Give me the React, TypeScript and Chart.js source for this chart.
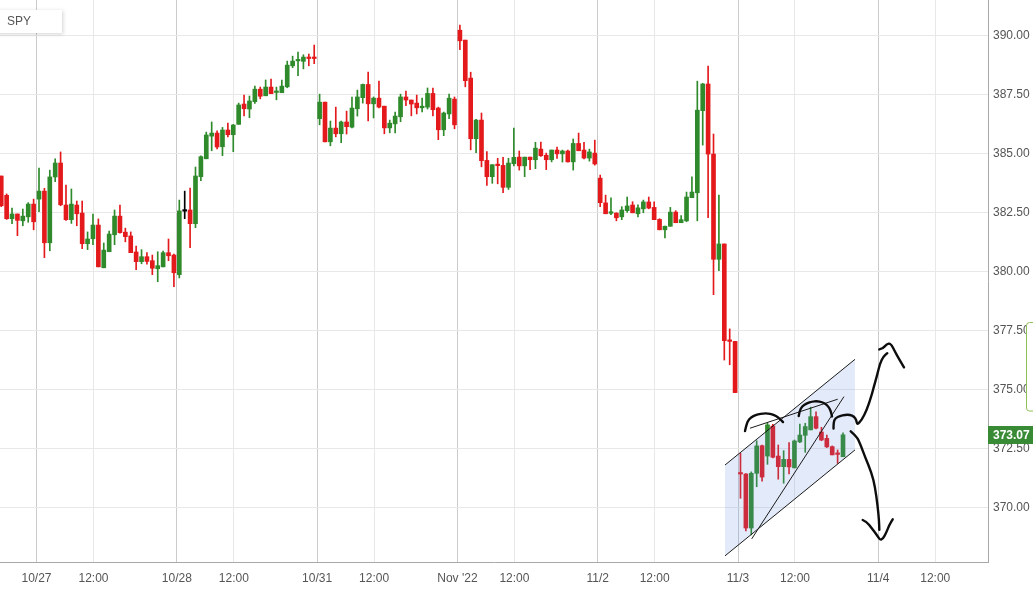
import React, { useEffect, useRef } from 'react';
import { Chart, registerables } from 'chart.js';

Chart.register(...registerables);

// ---------- data (15-minute bars, bar index 0 = first bar of 10/27) ----------
const FIRST_BAR = -7;
const BARS_PER_DAY = 26;
const SYMBOL = 'SPY';
const LAST_PRICE = 373.07;

const OPEN = [
  384.04, 383.22, 382.23, 382.43, 382.14, 382.31, 382.85,
  383.06, 383.40, 381.21, 384.00, 384.59, 382.81, 382.19, 382.81, 382.47, 381.17, 381.38, 381.96, 380.15,
  380.83, 381.55, 382.34, 381.66, 381.50, 380.82, 380.41, 380.62, 380.45, 380.11, 380.19, 380.79, 380.69,
  379.86, 382.55, 382.60, 382.02, 384.01, 384.77, 385.73, 385.86, 385.28, 385.99, 385.79, 386.23, 387.09,
  386.88, 387.19, 387.72, 387.44, 387.81, 387.58, 387.57, 387.82, 388.71, 388.92, 388.90, 389.03, 389.03,
  386.47, 387.17, 385.49, 386.07, 385.83, 386.33, 386.11, 386.89, 387.36, 387.92, 387.10, 387.34, 387.00,
  386.08, 386.25, 386.55, 387.39, 387.26, 387.13, 386.93, 386.96, 387.54, 386.92, 386.00, 386.67, 387.30,
  390.22, 389.80, 388.19, 385.62, 386.41, 384.70, 384.01, 384.50, 384.49, 383.56, 384.56, 384.84, 384.47,
  384.84, 384.73, 385.18, 384.92, 384.73, 385.14, 384.98, 385.10, 384.64, 385.42, 385.14, 384.80, 385.01,
  383.95, 382.90, 382.46, 382.47, 382.31, 382.57, 382.81, 382.44, 382.65, 382.94, 382.71, 382.20, 381.76,
  381.91, 382.51, 382.06, 382.14, 383.12, 383.33, 386.81, 387.94, 384.97, 380.51, 381.16, 377.05, 377.03,
  371.43, 371.41, 369.12, 371.44, 372.61, 372.17, 373.44, 372.17, 371.72, 372.03, 371.67, 372.77, 373.05,
  373.28, 373.84, 373.19, 372.92, 372.57, 372.26, 372.14,
];
const HIGH = [
  384.04, 383.28, 382.68, 382.43, 382.64, 382.91, 383.06,
  384.38, 383.52, 384.29, 384.77, 385.06, 383.66, 383.49, 382.98, 382.98, 381.67, 382.43, 382.22, 381.20,
  381.71, 382.60, 382.81, 381.83, 381.67, 381.07, 380.92, 380.79, 380.69, 380.83, 380.86, 381.37, 380.73,
  383.02, 383.40, 383.53, 384.42, 384.90, 385.90, 386.33, 385.96, 386.10, 386.28, 386.23, 387.13, 387.47,
  387.43, 387.85, 387.81, 388.11, 388.15, 387.81, 388.11, 388.91, 389.12, 389.29, 389.18, 389.21, 389.59,
  387.51, 387.17, 386.37, 386.96, 386.37, 386.79, 387.39, 387.68, 387.94, 388.44, 387.39, 388.06, 387.00,
  386.41, 386.75, 387.51, 387.64, 387.26, 387.47, 387.34, 387.77, 387.77, 386.96, 386.75, 387.51, 387.39,
  390.44, 389.80, 388.44, 386.44, 386.71, 385.08, 384.52, 384.79, 384.83, 384.79, 386.07, 385.10, 384.84,
  384.84, 385.47, 385.48, 385.01, 385.14, 385.27, 385.14, 385.14, 385.61, 385.86, 385.47, 385.18, 385.56,
  384.08, 383.23, 383.11, 382.48, 382.74, 383.15, 382.95, 382.82, 383.02, 383.15, 382.95, 382.23, 381.92,
  382.71, 382.57, 382.36, 383.36, 384.00, 388.06, 387.97, 388.70, 385.82, 383.23, 381.16, 377.56, 377.03,
  372.29, 371.43, 371.50, 372.82, 372.64, 373.56, 373.52, 372.64, 372.40, 372.74, 372.85, 373.53, 373.56,
  374.24, 374.05, 373.39, 373.06, 372.60, 372.43, 373.16,
];
const LOW = [
  382.74, 382.20, 382.02, 381.51, 381.93, 382.08, 381.76,
  382.53, 380.58, 380.87, 383.80, 382.78, 382.16, 382.03, 381.93, 380.96, 380.92, 381.13, 380.19, 380.15,
  380.83, 381.13, 381.62, 381.25, 380.79, 380.07, 380.32, 380.30, 379.86, 379.56, 380.19, 380.45, 379.35,
  379.72, 382.23, 381.00, 381.85, 383.84, 384.77, 385.11, 385.19, 384.90, 385.70, 385.07, 386.23, 386.59,
  386.51, 387.12, 387.31, 387.44, 387.53, 387.27, 387.57, 387.78, 388.63, 388.29, 388.58, 388.71, 388.80,
  386.21, 385.49, 385.32, 385.70, 385.45, 385.82, 386.08, 386.58, 387.13, 386.37, 386.50, 386.93, 385.83,
  385.87, 385.87, 386.34, 387.02, 386.59, 386.67, 386.76, 386.88, 386.59, 385.58, 385.75, 386.47, 386.04,
  389.39, 387.82, 385.15, 385.03, 384.43, 383.64, 383.73, 383.71, 383.33, 383.47, 384.47, 384.29, 384.01,
  384.31, 384.35, 384.87, 384.31, 384.64, 384.79, 384.63, 384.63, 384.29, 385.11, 384.76, 384.67, 384.50,
  382.74, 382.44, 382.40, 382.14, 382.19, 382.50, 382.48, 382.31, 382.48, 382.65, 382.19, 381.76, 381.42,
  381.91, 382.06, 382.06, 382.10, 383.12, 382.14, 385.35, 382.27, 379.01, 380.03, 376.24, 376.04, 374.86,
  370.38, 369.00, 368.83, 370.87, 371.11, 371.82, 372.09, 371.19, 371.02, 371.41, 371.67, 372.74, 372.33,
  373.28, 373.32, 372.82, 372.53, 372.22, 371.86, 372.14,
];
const CLOSE = [
  382.78, 382.23, 382.43, 382.16, 382.34, 382.85, 382.10,
  383.40, 381.21, 384.00, 384.59, 382.82, 382.19, 382.85, 382.44, 381.17, 381.37, 381.96, 380.19, 380.90,
  381.58, 382.34, 381.64, 381.47, 380.79, 380.41, 380.62, 380.42, 380.13, 380.24, 380.79, 380.66, 379.94,
  382.56, 382.55, 382.02, 384.04, 384.86, 385.78, 385.86, 385.27, 385.99, 385.79, 386.20, 387.05, 386.89,
  387.22, 387.72, 387.42, 387.81, 387.53, 387.60, 387.85, 388.74, 388.91, 388.93, 389.08, 389.02, 389.02,
  387.17, 385.49, 386.07, 385.83, 386.33, 386.13, 386.92, 387.39, 387.92, 387.10, 387.34, 386.96, 386.08,
  386.28, 386.58, 387.39, 387.26, 387.09, 386.93, 387.00, 387.54, 386.85, 386.00, 386.71, 387.34, 386.21,
  389.77, 388.08, 385.62, 386.41, 384.69, 384.01, 384.52, 384.48, 383.56, 384.59, 384.83, 384.47, 384.84,
  384.73, 385.22, 384.90, 384.73, 385.14, 384.98, 385.10, 384.64, 385.42, 385.11, 384.80, 385.06, 384.55,
  382.91, 382.44, 382.48, 382.27, 382.60, 382.77, 382.48, 382.69, 382.94, 382.68, 382.19, 381.76, 381.91,
  382.51, 382.06, 382.19, 383.15, 383.36, 386.83, 387.94, 384.97, 380.51, 381.16, 377.06, 377.03, 374.86,
  371.41, 369.12, 371.44, 372.60, 371.28, 373.49, 372.12, 371.72, 372.03, 371.71, 372.81, 373.06, 373.42,
  373.84, 373.35, 372.85, 372.56, 372.22, 372.24, 373.07,
];

// axis ticks
const DAY_LABELS = ['10/27', '10/28', '10/31', "Nov '22", '11/2', '11/3', '11/4'];
const NOON_LABEL = '12:00';
const DAY_TICK_OFFSET = -0.46;
const NOON_TICK_OFFSET = 10.1;
const Y_TICKS = [370, 372.5, 375, 377.5, 380, 382.5, 385, 387.5, 390];
const X_MIN = -7.23;
const X_MAX = 175.87;
const Y_MIN = 367.68;
const Y_MAX = 391.5;

// hand drawings, in (bar index, price)
const CHANNEL_UPPER = [[127.13, 371.79], [151.22, 376.27]];
const CHANNEL_LOWER = [[127.13, 367.94], [151.22, 372.43]];
const TREND_STEEP = [[132.08, 368.66], [149.18, 374.69]];
const TREND_FLAT = [[131.76, 373.35], [148.02, 374.58]];
const STROKE_ARC_LEFT = [
  [130.84, 373.23], [131.12, 373.53], [131.58, 373.74], [132.38, 373.87], [133.25, 373.94], [134.23, 373.98],
  [135.10, 373.98], [135.84, 373.94], [136.58, 373.87], [137.23, 373.77], [137.88, 373.61],
];
const STROKE_ARC_MID = [
  [140.79, 373.87], [140.94, 374.08], [141.40, 374.27], [142.33, 374.41], [143.25, 374.48], [144.18, 374.50],
  [145.11, 374.46], [145.94, 374.36], [146.50, 374.19], [146.78, 374.04], [146.96, 373.85],
];
const STROKE_UP = [
  [147.24, 373.34], [147.24, 373.61], [147.61, 373.78], [148.44, 373.87], [149.37, 373.92], [150.30, 373.92],
  [151.04, 373.85], [151.50, 373.68], [151.60, 373.49], [152.47, 373.70], [153.39, 374.12], [154.32, 374.76],
  [154.75, 375.14], [155.25, 375.53], [155.86, 376.10], [156.47, 376.38], [157.21, 376.53],
];
const STROKE_UP_HEAD = [
  [155.73, 376.69], [156.36, 376.72], [157.10, 376.92], [157.84, 376.95], [158.64, 376.59], [159.43, 376.27],
  [160.30, 375.93],
];
const STROKE_DOWN = [
  [150.43, 373.22], [151.54, 373.00], [152.15, 372.71], [153.08, 372.14], [154.32, 371.44], [154.93, 370.87],
  [155.43, 370.03], [155.67, 369.46], [155.73, 369.04],
];
const STROKE_DOWN_HEAD = [
  [152.65, 369.46], [153.39, 369.39], [154.32, 369.11], [155.25, 368.83], [155.86, 368.61], [156.36, 368.66],
  [156.97, 368.90], [157.58, 369.25], [158.21, 369.49],
];
const STROKES = [STROKE_ARC_LEFT, STROKE_ARC_MID, STROKE_UP, STROKE_UP_HEAD, STROKE_DOWN, STROKE_DOWN_HEAD];

const GREEN = '#2e8a2a';
const RED = '#e3191c';
const FONT = "'Liberation Sans', Arial, sans-serif";

const overlayPlugin = {
  id: 'overlay',
  afterDatasetsDraw(chart: any) {
    const { ctx, chartArea, scales } = chart;
    const xs = scales.x;
    const ys = scales.y;
    const P = (p: number[]) => [xs.getPixelForValue(p[0]), ys.getPixelForValue(p[1])];
    ctx.save();
    ctx.beginPath();
    ctx.rect(chartArea.left, chartArea.top, chartArea.right - chartArea.left, chartArea.bottom - chartArea.top);
    ctx.clip();

    const u0 = P(CHANNEL_UPPER[0]), u1 = P(CHANNEL_UPPER[1]);
    const l0 = P(CHANNEL_LOWER[0]), l1 = P(CHANNEL_LOWER[1]);
    ctx.fillStyle = 'rgba(100,140,220,0.18)';
    ctx.beginPath();
    ctx.moveTo(u0[0], u0[1]);
    ctx.lineTo(u1[0], u1[1]);
    ctx.lineTo(l1[0], l1[1]);
    ctx.lineTo(l0[0], l0[1]);
    ctx.closePath();
    ctx.fill();

    ctx.strokeStyle = '#1a1a1a';
    ctx.lineWidth = 1;
    for (const seg of [CHANNEL_UPPER, CHANNEL_LOWER, TREND_STEEP, TREND_FLAT]) {
      const a = P(seg[0]), b = P(seg[1]);
      ctx.beginPath();
      ctx.moveTo(a[0], a[1]);
      ctx.lineTo(b[0], b[1]);
      ctx.stroke();
    }

    ctx.strokeStyle = '#0d0d0d';
    ctx.lineWidth = 2.4;
    ctx.lineJoin = 'round';
    ctx.lineCap = 'round';
    for (const s of STROKES) {
      const pts = s.map(P);
      ctx.beginPath();
      ctx.moveTo(pts[0][0], pts[0][1]);
      for (let i = 1; i < pts.length - 1; i++) {
        const mx = (pts[i][0] + pts[i + 1][0]) / 2;
        const my = (pts[i][1] + pts[i + 1][1]) / 2;
        ctx.quadraticCurveTo(pts[i][0], pts[i][1], mx, my);
      }
      const last = pts[pts.length - 1];
      ctx.lineTo(last[0], last[1]);
      ctx.stroke();
    }
    ctx.restore();
  },
  afterDraw(chart: any) {
    const { ctx, chartArea, scales, width } = chart;
    const ys = scales.y;
    ctx.save();

    // outlined label box at right edge (partly off canvas)
    const bTop = ys.getPixelForValue(377.85);
    const bBot = ys.getPixelForValue(374.1);
    ctx.fillStyle = '#ffffff';
    ctx.strokeStyle = '#8fbf5a';
    ctx.lineWidth = 1;
    ctx.beginPath();
    (ctx as any).roundRect(width - 6.5, bTop + 0.5, 30, bBot - bTop, 3);
    ctx.fill();
    ctx.stroke();

    // last price label
    const py = ys.getPixelForValue(LAST_PRICE);
    ctx.fillStyle = '#388a35';
    ctx.fillRect(chartArea.right, Math.round(py - 9), width - chartArea.right, 18);
    ctx.fillStyle = '#ffffff';
    ctx.font = 'bold 12px ' + FONT;
    ctx.textAlign = 'left';
    ctx.textBaseline = 'middle';
    ctx.fillText(LAST_PRICE.toFixed(2), chartArea.right + 5, py + 0.5);

    // symbol legend box
    ctx.shadowColor = 'rgba(0,0,0,0.18)';
    ctx.shadowBlur = 4;
    ctx.shadowOffsetX = 1;
    ctx.shadowOffsetY = 1;
    ctx.fillStyle = '#ffffff';
    ctx.fillRect(-4, 10, 66, 23);
    ctx.shadowColor = 'transparent';
    ctx.fillStyle = '#555555';
    ctx.font = '12px ' + FONT;
    ctx.textBaseline = 'middle';
    ctx.fillText(SYMBOL, 7, 22);
    ctx.restore();
  },
};

export default function App() {
  const ref = useRef<HTMLCanvasElement | null>(null);

  useEffect(() => {
    if (!ref.current) return;
    const colors = OPEN.map((o, i) => (CLOSE[i] > o ? GREEN : CLOSE[i] < o ? RED : '#000000'));
    const bodies = OPEN.map((o, i) => ({ x: FIRST_BAR + i, y: [o, CLOSE[i]] }));
    const wicks = OPEN.map((_, i) => ({ x: FIRST_BAR + i, y: [LOW[i], HIGH[i]] }));

    const xTicks: number[] = [];
    DAY_LABELS.forEach((_, d) => {
      xTicks.push(d * BARS_PER_DAY + DAY_TICK_OFFSET);
      xTicks.push(d * BARS_PER_DAY + NOON_TICK_OFFSET);
    });

    const chart = new Chart(ref.current, {
      type: 'bar',
      data: {
        datasets: [
          {
            data: bodies as any,
            backgroundColor: colors,
            barThickness: 4,
            minBarLength: 1.5,
            grouped: false,
            order: 1,
            borderWidth: 0,
          } as any,
          {
            data: wicks as any,
            backgroundColor: colors,
            barThickness: 1,
            grouped: false,
            order: 2,
            borderWidth: 0,
          } as any,
        ],
      },
      options: {
        animation: false,
        responsive: false,
        maintainAspectRatio: false,
        layout: { padding: 0 },
        plugins: { legend: { display: false }, tooltip: { enabled: false } },
        scales: {
          x: {
            type: 'linear',
            min: X_MIN,
            max: X_MAX,
            offset: false,
            grid: {
              offset: false,
              drawTicks: false,
              color: (c: any) => (c.index % 2 === 0 ? '#cbcbcb' : '#e8e8e8'),
              lineWidth: 1,
            },
            border: { color: '#a8a8a8', width: 1 },
            ticks: {
              autoSkip: false,
              maxRotation: 0,
              padding: 9,
              color: '#555555',
              font: { family: FONT, size: 12 },
              callback: (_v: any, i: number) => (i % 2 === 0 ? DAY_LABELS[i / 2] : NOON_LABEL),
            },
            afterBuildTicks: (s: any) => {
              s.ticks = xTicks.map((v) => ({ value: v }));
            },
            afterFit: (s: any) => {
              s.height = 28;
              s.paddingLeft = 0;
              s.paddingRight = 0;
            },
          } as any,
          y: {
            position: 'right',
            min: Y_MIN,
            max: Y_MAX,
            grid: { drawTicks: false, color: '#e8e8e8', lineWidth: 1 },
            border: { color: '#a8a8a8', width: 1 },
            ticks: {
              padding: 5,
              color: '#555555',
              font: { family: FONT, size: 12 },
              callback: (v: any) => Number(v).toFixed(2),
            },
            afterBuildTicks: (s: any) => {
              s.ticks = Y_TICKS.map((v) => ({ value: v }));
            },
            afterFit: (s: any) => {
              s.width = 45;
              s.paddingTop = 0;
              s.paddingBottom = 0;
            },
          } as any,
        },
      },
      plugins: [overlayPlugin],
    });
    return () => chart.destroy();
  }, []);

  return (
    <div style={{ position: 'absolute', left: 0, top: 0, width: 1033, height: 590, background: '#fff' }}>
      <canvas ref={ref} width={1033} height={590} style={{ display: 'block' }} />
    </div>
  );
}
